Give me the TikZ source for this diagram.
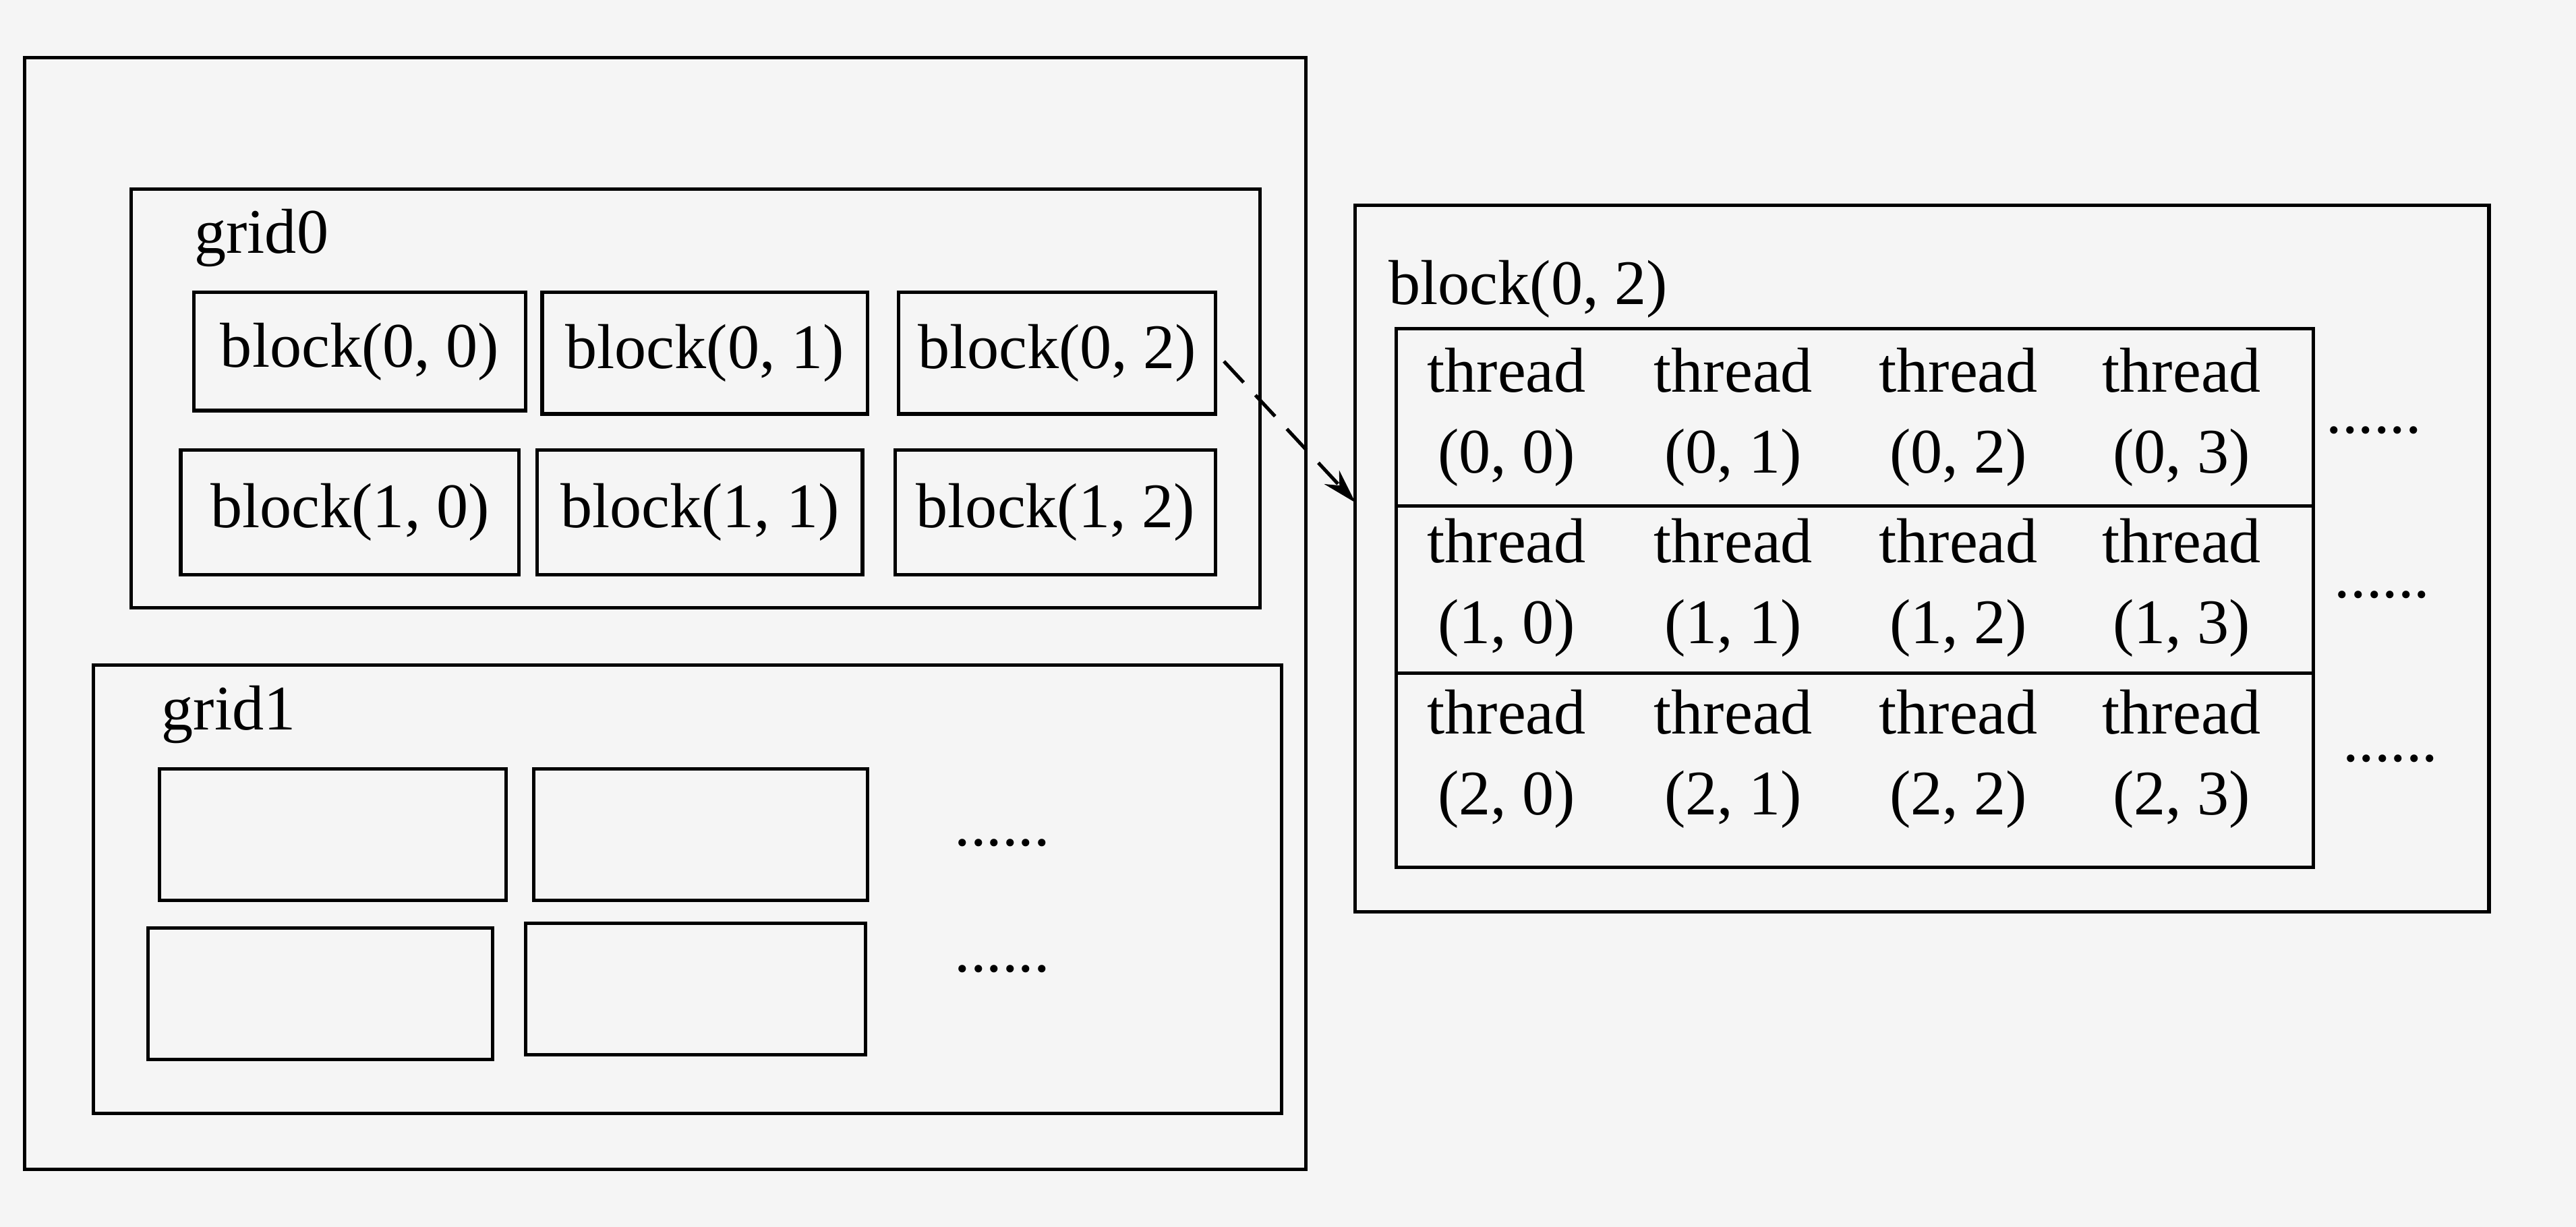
\documentclass[tikz,border=0pt]{standalone}
\usepackage{fontspec}
\setmainfont{Liberation Serif}
\usetikzlibrary{arrows.meta}
\begin{document}
\begin{tikzpicture}[x=0.02cm,y=-0.02cm,
  box/.style={draw,line width=1.2pt},
  lbl/.style={font=\fontsize{22}{26}\selectfont,anchor=west,inner sep=0pt},
  cell/.style={font=\fontsize{22}{28}\selectfont,align=center,inner sep=0pt},
  dots/.style={font=\fontsize{22}{26}\selectfont,inner sep=0pt}]
\fill[gray!8] (0,0) rectangle (1568,747);
\useasboundingbox (0,0) rectangle (1568,747);
\draw[box] (15,35) rectangle (795,712);
\draw[box] (80,115) rectangle (767,370);
\node[lbl] (g0) at (118,145) {grid0};
\def\B#1#2#3#4#5#6{\draw[box] (#1,#2) rectangle (#3,#4); \node[cell] (#6) at ({(#1+#3)/2},{(#2+#4)/2}) {#5};}
\B{118}{178}{320}{250}{block(0, 0)}{b00}
\B{330}{178}{528}{252}{block(0, 1)}{b01}
\B{547}{178}{740}{252}{block(0, 2)}{b02}
\B{110}{274}{316}{350}{block(1, 0)}{b10}
\B{327}{274}{525}{350}{block(1, 1)}{b11}
\B{545}{274}{740}{350}{block(1, 2)}{b12}
\draw[box] (57,405) rectangle (780,678);
\node[lbl] (g1) at (98,435) {grid1};
\draw[box] (97,468) rectangle (308,548);
\draw[box] (325,468) rectangle (528,548);
\draw[box] (90,565) rectangle (300,645);
\draw[box] (320,562) rectangle (527,642);
\node[dots] (d1) at (610,513) {......};
\node[dots] (d2) at (610,590) {......};
\draw[box] (825,125) rectangle (1515,555);
\node[lbl] (bl) at (845,176) {block(0, 2)};
\draw[box] (850,200) rectangle (1408,528);
\draw[box] (850,308) -- (1408,308);
\draw[box] (850,410) -- (1408,410);
\foreach \r/\y in {0/254,1/358,2/462}{
  \foreach \c/\x in {0/917,1/1055,2/1192,3/1328}{
    \node[cell] (t\r\c) at (\x,\y) {thread\\(\r, \c)};
  }
}
\node[dots] (e0) at (1445,262) {......};
\node[dots] (e1) at (1450,362) {......};
\node[dots] (e2) at (1455,462) {......};
\coordinate (s) at (745,220);
\coordinate (tip) at (825,306);
\draw[line width=1.2pt,dashed,dash pattern=on 10pt off 6pt,-{Stealth[length=12pt,width=7pt]}] (s) -- (tip);
\end{tikzpicture}
\end{document}
